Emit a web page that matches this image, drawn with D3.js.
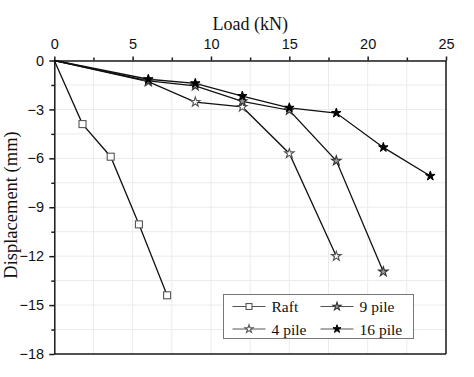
<!DOCTYPE html>
<html>
<head>
<meta charset="utf-8">
<script src="https://cdn.jsdelivr.net/npm/d3@7"></script>
<style>
  body { margin: 0; background: #fff; }
  svg { display: block; }
</style>
</head>
<body>
<div id="chart"></div>
<script>
// data
const raftLoad = [0, 1.8, 3.6, 5.4, 7.2];
const raftDisp = [0, -3.9, -5.9, -10.05, -14.4];
const pileLoad = [0, 6, 9, 12, 15, 18, 21, 24];
const pile4Disp = [0, -1.3, -2.55, -2.85, -5.7, -12.0];
const pile9Disp = [0, -1.25, -1.55, -2.5, -3.05, -6.15, -12.95];
const pile16Disp = [0, -1.15, -1.4, -2.18, -2.9, -3.22, -5.33, -7.08];
const xTicks = [0, 5, 10, 15, 20, 25];
const yTicks = [0, -3, -6, -9, -12, -15, -18];

const width = 474, height = 377;
const margin = { top: 60.5, right: 28, bottom: 23, left: 54.3 };

const svg = d3.select("#chart").append("svg")
    .attr("width", width)
    .attr("height", height);

const x = d3.scaleLinear().domain([0, 25]).range([margin.left, width - margin.right]);
const y = d3.scaleLinear().domain([0, -18]).range([margin.top, height - margin.bottom]);

const series = [
    { name: "Raft", load: raftLoad, disp: raftDisp, marker: "square" },
    { name: "4 pile", load: pileLoad, disp: pile4Disp, marker: "openStar" },
    { name: "9 pile", load: pileLoad, disp: pile9Disp, marker: "grayStar" },
    { name: "16 pile", load: pileLoad, disp: pile16Disp, marker: "blackStar" }
];

// Grid
const gx = d3.range(0, 25.01, 2.5), gy = d3.range(0, -18.01, -1.5);
svg.append("g").selectAll("line").data(gx).join("line")
    .attr("x1", d => x(d)).attr("x2", d => x(d))
    .attr("y1", y(0)).attr("y2", y(-18))
    .attr("stroke", "#ebebeb").attr("stroke-width", 1);
svg.append("g").selectAll("line").data(gy).join("line")
    .attr("y1", d => y(d)).attr("y2", d => y(d))
    .attr("x1", x(0)).attr("x2", x(25))
    .attr("stroke", "#ebebeb").attr("stroke-width", 1);

// Axes
const topAxis = svg.append("g")
    .attr("transform", `translate(0,${y(0)})`)
    .call(d3.axisTop(x).tickValues(xTicks).tickSize(4).tickSizeOuter(0).tickFormat(d3.format("d")));
svg.append("g")
    .attr("transform", `translate(0,${y(0)})`)
    .call(d3.axisTop(x).tickValues(d3.range(2.5, 25, 5)).tickSize(3).tickSizeOuter(0).tickFormat(""))
    .select(".domain").remove();
const leftAxis = svg.append("g")
    .attr("transform", `translate(${x(0)},0)`)
    .call(d3.axisLeft(y).tickValues(yTicks).tickSize(5).tickSizeOuter(0).tickFormat(d3.format("d")));
svg.append("g")
    .attr("transform", `translate(${x(0)},0)`)
    .call(d3.axisLeft(y).tickValues(d3.range(-1.5, -18, -3)).tickSize(3).tickSizeOuter(0).tickFormat(""))
    .select(".domain").remove();

svg.selectAll(".domain, .tick line").attr("stroke", "#1a1a1a").attr("stroke-width", 1.5);
topAxis.selectAll("text").attr("font-family", "Liberation Sans, Arial, sans-serif")
    .attr("font-size", 14.5).attr("fill", "#111").attr("dy", "-0.3em");
leftAxis.selectAll("text").attr("font-family", "Liberation Sans, Arial, sans-serif")
    .attr("font-size", 14.5).attr("fill", "#111").attr("dx", "-0.15em");

// right and bottom frame
svg.append("line").attr("x1", x(25)).attr("x2", x(25)).attr("y1", y(0)).attr("y2", y(-18))
    .attr("stroke", "#1a1a1a").attr("stroke-width", 1.5);
svg.append("line").attr("x1", x(0)).attr("x2", x(25)).attr("y1", y(-18)).attr("y2", y(-18))
    .attr("stroke", "#1a1a1a").attr("stroke-width", 1.5);

// Axis titles
svg.append("text")
    .attr("x", (x(0) + x(25)) / 2).attr("y", 30)
    .attr("text-anchor", "middle")
    .attr("font-family", "Liberation Serif, Times New Roman, serif")
    .attr("font-size", 18).attr("fill", "#111")
    .text("Load (kN)");
svg.append("text")
    .attr("transform", `translate(17,205) rotate(-90)`)
    .attr("text-anchor", "middle")
    .attr("font-family", "Liberation Serif, Times New Roman, serif")
    .attr("font-size", 18.5).attr("fill", "#111")
    .text("Displacement (mm)");

// Markers
const star = d3.symbol().type(d3.symbolStar);
function drawMarker(g, type, scale) {
    const k = scale || 1;
    if (type === "square") {
        g.append("rect").attr("x", -3.5 * k).attr("y", -3.5 * k)
            .attr("width", 7 * k).attr("height", 7 * k)
            .attr("fill", "#fff").attr("stroke", "#555").attr("stroke-width", 1.1);
    } else if (type === "openStar") {
        g.append("path").attr("d", star.size(28 * k * k)())
            .attr("fill", "#fff").attr("stroke", "#555").attr("stroke-width", 1.1);
    } else if (type === "grayStar") {
        g.append("path").attr("d", star.size(28 * k * k)())
            .attr("fill", "#9a9a9a").attr("stroke", "#333").attr("stroke-width", 1.1);
    } else {
        g.append("path").attr("d", star.size(28 * k * k)())
            .attr("fill", "#000").attr("stroke", "#000").attr("stroke-width", 1);
    }
}

const line = d3.line().x(d => x(d[0])).y(d => y(d[1]));
series.forEach(s => {
    const pts = s.disp.map((v, i) => [s.load[i], v]);
    svg.append("path").datum(pts)
        .attr("d", line)
        .attr("fill", "none").attr("stroke", "#111").attr("stroke-width", 1.3);
});
series.forEach(s => {
    const pts = s.disp.map((v, i) => [s.load[i], v]).slice(1);
    pts.forEach(p => {
        const g = svg.append("g").attr("transform", `translate(${x(p[0])},${y(p[1])})`);
        drawMarker(g, s.marker);
    });
});

// Legend
const lg = svg.append("g").attr("transform", "translate(223.5,294.5)");
lg.append("rect").attr("width", 190).attr("height", 44)
    .attr("fill", "#fff").attr("stroke", "#777").attr("stroke-width", 1);
const legPos = [[9, 12], [9, 34.5], [97, 12], [97, 34.5]];
series.forEach((s, i) => {
    const [lx, ly] = legPos[i];
    const g = lg.append("g").attr("transform", `translate(${lx},${ly})`);
    g.append("line").attr("x1", 0).attr("x2", 33).attr("y1", 0).attr("y2", 0)
        .attr("stroke", "#555").attr("stroke-width", 1);
    drawMarker(g.append("g").attr("transform", "translate(16.5,0)"), s.marker, 0.85);
    g.append("text").attr("x", 39).attr("y", 5.5)
        .attr("font-family", "Liberation Serif, Times New Roman, serif")
        .attr("font-size", 15.5).attr("fill", "#111")
        .text(s.name);
});
</script>
</body>
</html>
